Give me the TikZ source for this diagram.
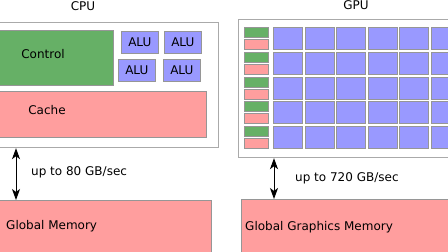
\documentclass[tikz,border=0pt]{standalone}
\usepackage{fontspec}
\setmainfont{DejaVu Sans}
\usetikzlibrary{arrows.meta}
\definecolor{ctlgreen}{RGB}{102,176,102}
\definecolor{cachepink}{RGB}{255,158,158}
\definecolor{alublue}{RGB}{153,153,255}
\definecolor{framegray}{RGB}{170,170,170}
\definecolor{cellgray}{RGB}{150,150,150}
\tikzset{
  frame/.style={draw=framegray, fill=white, line width=1.2pt, anchor=north west, inner sep=0pt},
  cell/.style={draw=cellgray, line width=0.6pt, anchor=north west, inner sep=0pt},
  lbl/.style={font=\fontsize{12}{14}\selectfont, inner sep=0pt, text=black},
  bw/.style={<->, >={Stealth[length=11pt,width=8pt,inset=3pt]}, line width=0.9pt, black}
}
\begin{document}
\begin{tikzpicture}[x=1pt,y=-1pt]
\useasboundingbox (0,0) rectangle (448,252);
% CPU
\node[lbl] (cpulbl) at (83,6) {CPU};
\node[frame, minimum width=230pt, minimum height=125pt] (cpu) at (-12,22) {};
\node[cell, fill=ctlgreen, minimum width=125pt, minimum height=55pt] (ctl) at (-12,30) {};
\node[lbl] (ctltxt) at (43,54) {Control};
\node[cell, fill=alublue, minimum width=37pt, minimum height=22pt] (alu1) at (121,31) {};
\node[cell, fill=alublue, minimum width=37pt, minimum height=22pt] (alu2) at (164,31) {};
\node[cell, fill=alublue, minimum width=37pt, minimum height=22pt] (alu3) at (118,59) {};
\node[cell, fill=alublue, minimum width=37pt, minimum height=22pt] (alu4) at (163,59) {};
\node[lbl] at (alu1) {ALU};
\node[lbl] at (alu2) {ALU};
\node[lbl] at (alu3) {ALU};
\node[lbl] at (alu4) {ALU};
\node[cell, fill=cachepink, minimum width=218pt, minimum height=46pt] (cache) at (-12,91) {};
\node[lbl] (cachetxt) at (47,110) {Cache};
\node[cell, fill=cachepink, minimum width=223pt, minimum height=60pt] (mem) at (-12,200) {};
\node[lbl, anchor=west] (memtxt) at (6,226) {Global Memory};
\coordinate (ax) at (16,0);
\draw[bw] (cpu.south -| ax) -- (mem.north -| ax);
\node[lbl, anchor=west] (bw1) at (31,172) {up to 80 GB/sec};
% GPU
\node[lbl] (gpulbl) at (356,5) {GPU};
\node[frame, minimum width=230pt, minimum height=138pt] (gpu) at (238,19) {};
\foreach \r in {0,...,4}{
  \node[cell, fill=ctlgreen, minimum width=24pt, minimum height=10pt] (sg\r) at (244,27+24.8*\r) {};
  \node[cell, fill=cachepink, minimum width=24pt, minimum height=10pt] (sp\r) at (244,39+24.8*\r) {};
  \foreach \c in {0,...,5}{
    \node[cell, fill=alublue, minimum width=29pt, minimum height=22pt] (c\r\c) at (273+31.6*\c,27+24.8*\r) {};
  }
}
\node[cell, fill=cachepink, minimum width=220pt, minimum height=60pt] (gmem) at (241,199) {};
\node[lbl, anchor=west] (gmemtxt) at (245,227) {Global Graphics Memory};
\coordinate (gx) at (274,0);
\draw[bw] (gpu.south -| gx) -- (gmem.north -| gx);
\node[lbl, anchor=west] (bw2) at (295,178) {up to 720 GB/sec};
\end{tikzpicture}
\end{document}
